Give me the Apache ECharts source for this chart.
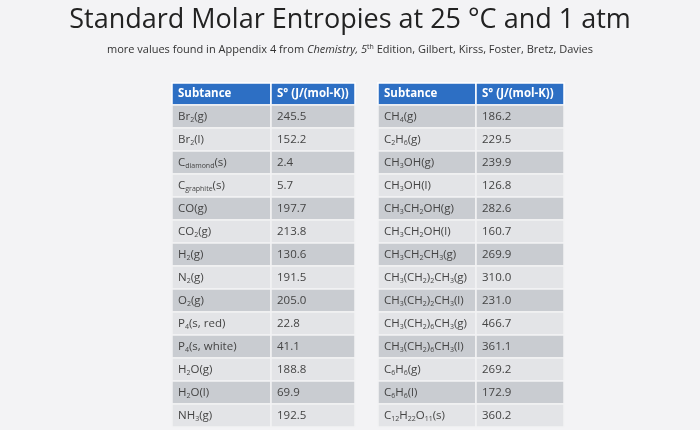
<!DOCTYPE html>
<html><head><meta charset="utf-8">
<script src="https://cdn.jsdelivr.net/npm/echarts@6/dist/echarts.min.js"></script>
<style>html,body{margin:0;background:#f3f3f5}#c{width:700px;height:430px}</style>
</head><body><div id="c"></div>
<script>
const headers = ['Subtance', 'S° (J/(mol-K))'];
const leftNames = ['Br_{2}(g)','Br_{2}(l)','C_{diamond}(s)','C_{graphite}(s)','CO(g)','CO_{2}(g)','H_{2}(g)','N_{2}(g)','O_{2}(g)','P_{4}(s, red)','P_{4}(s, white)','H_{2}O(g)','H_{2}O(l)','NH_{3}(g)'];
const leftValues = [245.5,152.2,2.4,5.7,197.7,213.8,130.6,191.5,205.0,22.8,41.1,188.8,69.9,192.5];
const rightNames = ['CH_{4}(g)','C_{2}H_{6}(g)','CH_{3}OH(g)','CH_{3}OH(l)','CH_{3}CH_{2}OH(g)','CH_{3}CH_{2}OH(l)','CH_{3}CH_{2}CH_{3}(g)','CH_{3}(CH_{2})_{2}CH_{3}(g)','CH_{3}(CH_{2})_{2}CH_{3}(l)','CH_{3}(CH_{2})_{6}CH_{3}(g)','CH_{3}(CH_{2})_{6}CH_{3}(l)','C_{6}H_{6}(g)','C_{6}H_{6}(l)','C_{12}H_{22}O_{11}(s)'];
const rightValues = [186.2,229.5,239.9,126.8,282.6,160.7,269.9,310.0,231.0,466.7,361.1,269.2,172.9,360.2];

// layout (pixel-space value axes)
const colEdges = [[172,271,355],[378,476,564]];
const headTop = 83, headBot = 105, rowH = 23;

function toRich(s){
  return s.split(/(_\{[^}]*\})/).filter(x=>x).map(p=>{
    if(p.startsWith('_{')) return '{s|'+p.slice(2,-1)+'}';
    return '{n|'+p+'}';
  }).join('');
}
const cells = [];
[[leftNames,leftValues],[rightNames,rightValues]].forEach(([names,vals],t)=>{
  cells.push([t,0,-1,headers[0]]); cells.push([t,1,-1,headers[1]]);
  names.forEach((n,i)=>{ cells.push([t,0,i,n]); cells.push([t,1,i,vals[i].toFixed(1)]); });
});
const chart = echarts.init(document.getElementById('c'));
chart.setOption({
  animation:false,
  title:[{text:'Standard Molar Entropies at 25 °C and 1 atm',left:'center',top:2,
    textStyle:{fontFamily:'Open Sans',fontSize:27,fontWeight:'normal',color:'#222'}},
    {text:'{a|more values found in Appendix 4 from }{i|Chemistry, 5}{sup|th}{a| Edition, Gilbert, Kirss, Foster, Bretz, Davies}',
     left:'center',top:38,textStyle:{fontWeight:'normal',rich:{a:{fontFamily:'Open Sans',fontSize:11,fontWeight:'normal',color:'#333'},i:{fontFamily:'Open Sans',fontSize:11,fontWeight:'normal',fontStyle:'italic',color:'#333'},sup:{fontFamily:'Open Sans',fontSize:7,fontWeight:'normal',verticalAlign:'top',color:'#333',padding:[0,0,6,0]}}}}],
  grid:{left:0,right:0,top:0,bottom:0},
  xAxis:{type:'value',min:0,max:700,show:false},
  yAxis:{type:'value',min:0,max:430,inverse:true,show:false},
  series:[{type:'custom',data:cells,coordinateSystem:'cartesian2d',
    renderItem:(params,api)=>{
      const d = cells[params.dataIndex];
      const t=d[0],c=d[1],r=d[2],txt=d[3];
      const x0=colEdges[t][c], x1=colEdges[t][c+1];
      const y0 = r<0?headTop:headBot+r*rowH, y1 = r<0?headBot:headBot+(r+1)*rowH;
      const p0=api.coord([x0,y0]), p1=api.coord([x1,y1]);
      const head=r<0;
      const fill = head?'#2d6fc4':(r%2===0?'#c9ccd1':'#e3e4e7');
      return {type:'group',children:[
        {type:'rect',shape:{x:p0[0],y:p0[1],width:p1[0]-p0[0],height:p1[1]-p0[1]},
          style:{fill:fill,stroke:head?'#ffffff':'#f2f2f4',lineWidth:1.5}},
        {type:'text',x:p0[0]+6,y:(p0[1]+p1[1])/2,
          style:{text:head?txt:(c===0?toRich(txt):txt),verticalAlign:'middle',align:'left',
            fontFamily:'Open Sans',fontSize:head?11.5:11.5,fontWeight:head?'bold':'normal',
            fill:head?'#fff':'#444',
            rich:{n:{fontFamily:'Open Sans',fontSize:11.5,fill:'#444'},
                  s:{fontFamily:'Open Sans',fontSize:7,fill:'#444',verticalAlign:'bottom',padding:[6,0,0,0]}}}}
      ]};
    }}]
});
</script></body></html>
